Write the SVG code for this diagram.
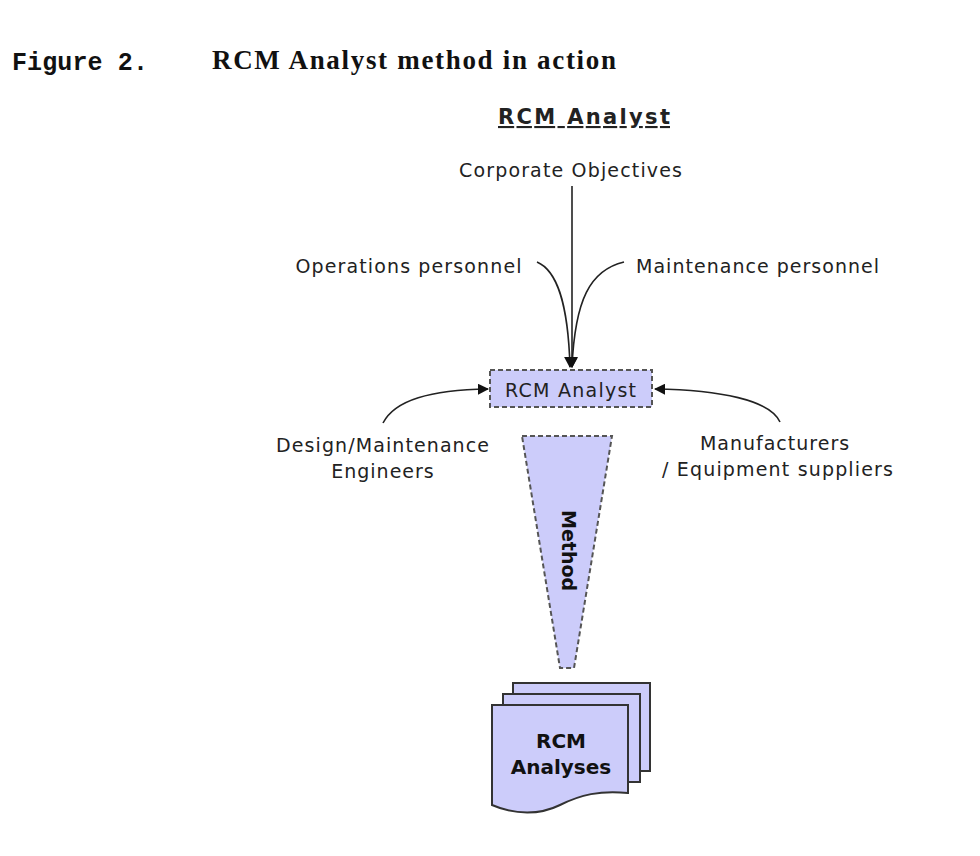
<svg xmlns="http://www.w3.org/2000/svg" width="980" height="856" viewBox="0 0 980 856">
<defs>
<style>
.t{font-family:"DejaVu Sans","Verdana",sans-serif;font-size:19px;fill:#222;letter-spacing:1px}
.c{fill:none;stroke:#222;stroke-width:1.6}
.box{fill:#ccccfa;stroke:#555;stroke-width:2;stroke-dasharray:5,3}
.doc{fill:#ccccfa;stroke:#333;stroke-width:2}
</style>
<marker id="a" viewBox="0 0 10 10" refX="9" refY="5" markerWidth="7" markerHeight="7" orient="auto"><path d="M0,0L10,5L0,10z" fill="#111"/></marker>
</defs>
<rect width="980" height="856" fill="#fff"/>
<text x="12" y="70" font-family="Liberation Mono,monospace" font-size="25" font-weight="bold" fill="#111" textLength="136">Figure 2.</text>
<text x="212" y="69" font-family="Liberation Serif,serif" font-size="27" font-weight="bold" fill="#111" textLength="404">RCM Analyst method in action</text>
<text x="584" y="124" text-anchor="middle" font-family="DejaVu Sans,sans-serif" font-size="21" font-weight="bold" fill="#222" text-decoration="underline" textLength="172">RCM Analyst</text>
<g id="corp"><text class="t" x="571" y="177" text-anchor="middle" textLength="224">Corporate Objectives</text></g>
<g id="ops"><text class="t" x="409" y="273" text-anchor="middle" textLength="227">Operations personnel</text></g>
<g id="maint"><text class="t" x="758" y="273" text-anchor="middle" textLength="244">Maintenance personnel</text></g>
<g id="design"><text class="t" x="383" y="452" text-anchor="middle" textLength="214">Design/Maintenance</text><text class="t" x="383" y="478" text-anchor="middle">Engineers</text></g>
<g id="manuf"><text class="t" x="775" y="450" text-anchor="middle">Manufacturers</text><text class="t" x="778" y="476" text-anchor="middle" textLength="232">/ Equipment suppliers</text></g>
<g id="analyst"><rect class="box" x="490" y="370" width="162" height="37"/><text class="t" x="571" y="397" text-anchor="middle" textLength="132">RCM Analyst</text></g>
<g id="method"><path class="box" d="M522,436L612,436L574,668L560,668Z"/><text x="567" y="510" transform="rotate(90 567 510)" font-family="DejaVu Sans,sans-serif" font-size="19" font-weight="bold" fill="#111" dominant-baseline="middle">Method</text></g>
<g id="analyses">
<rect class="doc" x="513" y="683" width="137" height="88"/>
<rect class="doc" x="503" y="694" width="137" height="88"/>
<path class="doc" d="M492,705H628V793C600,790 580,795 560,805C540,815 515,815 492,805Z"/>
<text x="561" y="748" text-anchor="middle" font-family="DejaVu Sans,sans-serif" font-size="20" font-weight="bold" fill="#111">RCM</text>
<text x="561" y="774" text-anchor="middle" font-family="DejaVu Sans,sans-serif" font-size="20" font-weight="bold" fill="#111">Analyses</text>
</g>
<g id="connectors">
<path class="c" d="M572,186V367" marker-end="url(#a)"/>
<path class="c" d="M537,262C556,270 568,300 570,367" marker-end="url(#a)"/>
<path class="c" d="M624,262C590,270 575,300 572,367" marker-end="url(#a)"/>
<path class="c" d="M383,423C395,400 430,390 488,389" marker-end="url(#a)"/>
<path class="c" d="M780,422C770,400 720,390 655,389" marker-end="url(#a)"/>
</g>
</svg>
